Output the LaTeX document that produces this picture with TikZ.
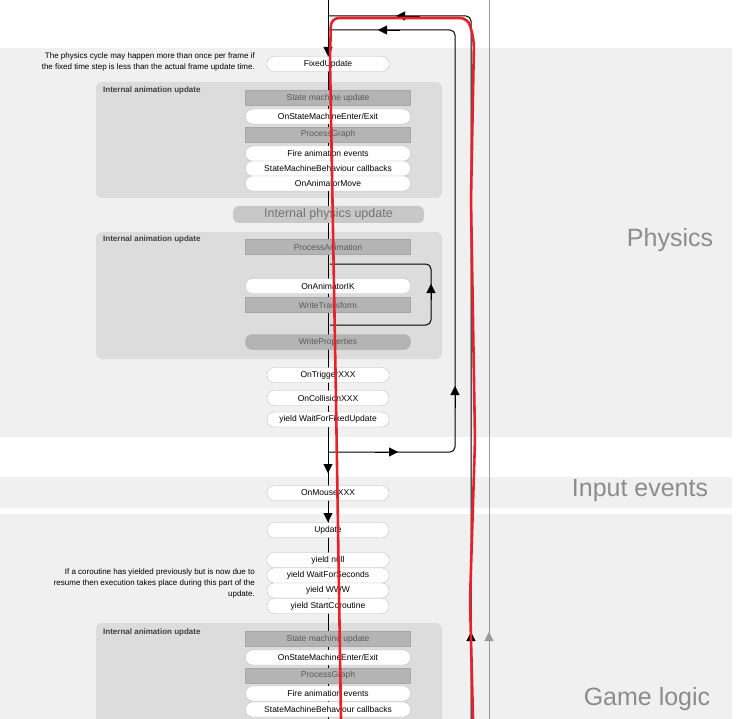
\documentclass[tikz,border=0pt]{standalone}
\usepackage{fontspec}
\setmainfont{Liberation Sans}
\usetikzlibrary{arrows.meta}
\definecolor{bandc}{HTML}{F0F0F0}
\definecolor{groupc}{HTML}{DCDCDC}
\definecolor{grayboxc}{HTML}{B4B4B4}
\definecolor{physc}{HTML}{C8C8C8}
\definecolor{redc}{HTML}{E8202A}
\tikzset{
 wbox/.style={draw=black!25,fill=white,rounded corners=7pt,minimum width=#1,minimum height=15pt,inner sep=0pt,font=\fontsize{8.5}{9}\selectfont},
 wbox/.default=122pt,
 gbox/.style={draw=black!35,fill=grayboxc,minimum width=165pt,minimum height=15pt,inner sep=0pt,text=black!65,font=\fontsize{8.5}{9}\selectfont},
 grp/.style={fill=groupc,rounded corners=6pt},
 band/.style={fill=bandc},
 glabel/.style={anchor=north west,inner sep=0pt,text=black!75,font=\fontsize{8}{9}\selectfont\bfseries},
 sect/.style={text=black!45,font=\fontsize{25}{26}\selectfont,inner sep=0pt},
 note/.style={align=right,anchor=north east,inner sep=0pt,font=\fontsize{8}{11}\selectfont},
 flow/.style={black,line width=1pt,rounded corners=5pt},
 tri/.style={-{Triangle[length=9pt,width=9pt]}},
}
\begin{document}
\begin{tikzpicture}[x=1pt,y=-1pt]
\useasboundingbox (0,0) rectangle (746,719);
% bands
\fill[band] (0,48) rectangle (732,437);
\fill[band] (0,477) rectangle (732,508);
\fill[band] (0,514) rectangle (732,719);
% groups
\fill[grp] (96,82) rectangle (442,198);
\fill[grp] (96,232) rectangle (442,359);
\fill[grp] (96,623) rectangle (442,730);
\node[glabel] (g1) at (103,87) {Internal animation update};
\node[glabel] (g2) at (103,236) {Internal animation update};
\node[glabel] (g3) at (103,628) {Internal animation update};
% section labels
\node[sect] (sphys) at (670,240) {Physics};
\node[sect] (sinp) at (640,490) {Input events};
\node[sect] (sgame) at (647,699) {Game logic};
% notes
\node[note] (n1) at (255,53) {The physics cycle may happen more than once per frame if\\the fixed time step is less than the actual frame update time.};
\node[note] (n2) at (255,568) {If a coroutine has yielded previously but is now due to\\resume then execution takes place during this part of the\\update.};
% gray line
\draw[black!40,line width=1pt] (489,0) coordinate (gt) -- (489,719) coordinate (gb);
\draw[black!40,tri] (489,660) coordinate (ga) -- (489,632);
% main line
\draw[black,line width=1pt] (328,0) coordinate (mt) -- (328,719) coordinate (mb);
% outer loop
\coordinate (o1) at (471,719);
\coordinate (o2) at (471,16);
\coordinate (o3) at (328,16);
\draw[flow] (o1) -- (o2) -- (o3);
\draw[tri] (420,16) -- (396,16);
\draw[tri] (471,660) -- (471,632);
% inner loop
\coordinate (i1) at (328,452);
\coordinate (i2) at (455,452);
\coordinate (i3) at (455,30);
\coordinate (i4) at (328,30);
\draw[flow] (i1) -- (i2) -- (i3) -- (i4);
\draw[tri] (375,452) -- (398,452);
\draw[tri] (455,408) -- (455,386);
\draw[tri] (400,30) -- (378,30);
\draw[tri] (328,40) -- (328,56);
\draw[tri] (328,455) -- (328,473);
\draw[tri] (328,508) -- (328,522);
% boxes
\node[wbox] (fu) at (328,64) {FixedUpdate};
\node[gbox] (a1) at (328,98) {State machine update};
\node[wbox=165pt] (a2) at (328,116.5) {OnStateMachineEnter/Exit};
\node[gbox] (a3) at (328,134.5) {ProcessGraph};
\node[wbox=165pt] (a4) at (328,153.5) {Fire animation events};
\node[wbox=165pt] (a5) at (328,168.5) {StateMachineBehaviour callbacks};
\node[wbox=165pt] (a6) at (328,183.5) {OnAnimatorMove};
\node[fill=physc,rounded corners=6pt,minimum width=191pt,minimum height=17pt,inner sep=0pt,text=black!55,font=\fontsize{12.5}{13}\selectfont] (ipu) at (328.5,214.5) {Internal physics update};
\node[gbox] (b1) at (328,247) {ProcessAnimation};
% IK loop
\coordinate (k1) at (330,264);
\coordinate (k2) at (431,264);
\coordinate (k3) at (431,325);
\coordinate (k4) at (330,325);
\draw[flow] (k1) -- (k2) -- (k3) -- (k4);
\draw[tri] (431,300) -- (431,284);
\node[wbox=165pt] (b2) at (328,286) {OnAnimatorIK};
\node[gbox] (b3) at (328,305) {WriteTransform};
\node[gbox,rounded corners=7pt] (b4) at (328,342) {WriteProperties};
\node[wbox] (t1) at (328,375) {OnTriggerXXX};
\node[wbox] (t2) at (328,398) {OnCollisionXXX};
\node[wbox] (t3) at (328,419.5) {yield WaitForFixedUpdate};
\node[wbox] (m1) at (328,493) {OnMouseXXX};
\node[wbox] (u1) at (328,530) {Update};
\node[wbox] (y1) at (328,560) {yield null};
\node[wbox] (y2) at (328,575.5) {yield WaitForSeconds};
\node[wbox] (y3) at (328,590.5) {yield WWW};
\node[wbox] (y4) at (328,606) {yield StartCoroutine};
\node[gbox] (c1) at (328,639) {State machine update};
\node[wbox=165pt] (c2) at (328,657.5) {OnStateMachineEnter/Exit};
\node[gbox] (c3) at (328,675.5) {ProcessGraph};
\node[wbox=165pt] (c4) at (328,693.5) {Fire animation events};
\node[wbox=165pt] (c5) at (328,709.5) {StateMachineBehaviour callbacks};
% red hand-drawn loop
\draw[redc,line width=2.6pt,rounded corners=8pt] (341,719) -- (336,400) -- (330,60) -- (331,18) -- (468,18) -- (474,40) -- (471,200) -- (475,440) -- (470,600) -- (473,719);
\end{tikzpicture}
\end{document}
